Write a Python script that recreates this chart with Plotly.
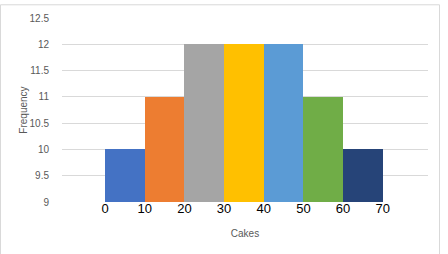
import plotly.graph_objects as go

bin_starts = [0, 10, 20, 30, 40, 50, 60]
bin_width = 10
frequencies = [10, 11, 12, 12, 12, 11, 10]
colors = ["#4472C4", "#ED7D31", "#A5A5A5", "#FFC000", "#5B9BD5", "#70AD47", "#264478"]
x_tick_vals = [0, 10, 20, 30, 40, 50, 60, 70]
y_tick_vals = [9, 9.5, 10, 10.5, 11, 11.5, 12, 12.5]

centers = [s + bin_width / 2 for s in bin_starts]

fig = go.Figure(go.Bar(
    x=centers, y=frequencies, width=[bin_width] * len(centers),
    marker=dict(color=colors, line=dict(width=0)),
    showlegend=False,
))

L, R, T, B = 62, 20, 14, 52
W, H = 448, 254
pw, ph = W - L - R, H - T - B

fig.update_layout(
    width=W, height=H,
    margin=dict(l=L, r=R, t=T, b=B),
    paper_bgcolor="white", plot_bgcolor="white",
    font=dict(family="Liberation Sans, Arial, sans-serif"),
    bargap=0,
    xaxis=dict(
        range=[-10.85, 81.4],
        tickvals=x_tick_vals,
        ticktext=[str(v) for v in x_tick_vals],
        tickfont=dict(size=13, color="#000000"),
        showgrid=False, zeroline=False, showline=False, ticks="",
        ticklabelstandoff=-3,
        title=dict(text="Cakes", font=dict(size=10, color="#595959"), standoff=14),
    ),
    yaxis=dict(
        range=[9, 12.5],
        tickvals=y_tick_vals,
        ticktext=[("%g" % v) for v in y_tick_vals],
        tickfont=dict(size=10, color="#595959"),
        showgrid=True, gridcolor="#D9D9D9", gridwidth=1,
        zeroline=False, showline=False, ticks="",
        ticklabelstandoff=12,
        title=dict(text="Frequency", font=dict(size=10, color="#595959"), standoff=0),
    ),
    shapes=[dict(
        type="rect", xref="paper", yref="paper",
        x0=(0.5 - L) / pw, x1=(439.5 - L) / pw,
        y0=(T + ph - (H + 5)) / ph, y1=(T + ph - 0.5) / ph,
        line=dict(color="#D9D9D9", width=1), fillcolor="rgba(0,0,0,0)",
        layer="below",
    )],
)

fig.write_html("out.html")
